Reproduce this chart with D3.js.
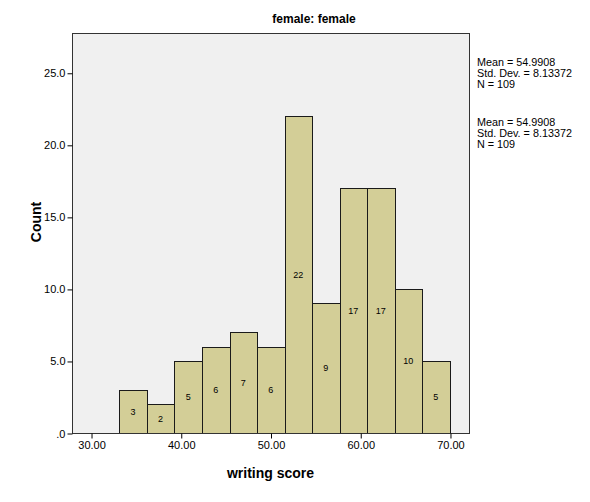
<!DOCTYPE html>
<html lang="en">
<head>
<meta charset="UTF-8">
<title>female: female</title>
<script src="https://cdnjs.cloudflare.com/ajax/libs/d3/7.8.5/d3.min.js"></script>
<style>
    body { margin: 0; background: #fff; font-family: Arial, "Liberation Sans", sans-serif; }
    .axis text { font-size: 11px; fill: #000; font-family: Arial, "Liberation Sans", sans-serif; }
    .axis line { stroke: #000; }
    .bar { fill: #d3ce97; stroke: #1a1a1a; stroke-width: 1px; }
    .barlabel { font-size: 9px; text-anchor: middle; }
    .stats { font-size: 10.8px; }
</style>
</head>
<body>
<svg width="590" height="502"></svg>
<script>
// histogram bins (writing score) and counts
const binEdges = [33.15, 36.22, 39.29, 42.36, 45.44, 48.5, 51.57, 54.63, 57.7, 60.76, 63.83, 66.9, 69.95];
const counts = [3, 2, 5, 6, 7, 6, 22, 9, 17, 17, 10, 5];
const xTicks = [30, 40, 50, 60, 70];
const yTicks = [0, 5, 10, 15, 20, 25];
const statLines = ["Mean = 54.9908", "Std. Dev. = 8.13372", "N = 109"];

const bins = counts.map((c, i) => ({ x0: binEdges[i], x1: binEdges[i + 1], count: c }));

const svg = d3.select("svg");
const m = { left: 72, top: 33, right: 469, bottom: 433 };

const x = d3.scaleLinear().domain([27.88, 72.12]).range([m.left, m.right]);
const y = d3.scaleLinear().domain([0, 27.76]).range([m.bottom, m.top]);

// plot background
svg.append("rect")
    .attr("x", m.left).attr("y", m.top)
    .attr("width", m.right - m.left).attr("height", m.bottom - m.top)
    .attr("fill", "#f0f0f0");

// bars
svg.append("g").selectAll("rect")
    .data(bins)
    .join("rect")
    .attr("class", "bar")
    .attr("x", d => Math.round(x(d.x0)) + 0.5)
    .attr("y", d => Math.round(y(d.count)) + 0.5)
    .attr("width", d => Math.round(x(d.x1)) - Math.round(x(d.x0)))
    .attr("height", d => Math.round(y(0)) - Math.round(y(d.count)));

svg.append("g").selectAll("text")
    .data(bins)
    .join("text")
    .attr("class", "barlabel")
    .attr("x", d => x((d.x0 + d.x1) / 2))
    .attr("y", d => (y(d.count) + y(0)) / 2)
    .attr("dy", "0.35em")
    .text(d => d.count);

// frame
svg.append("rect")
    .attr("x", m.left + 0.5).attr("y", m.top + 0.5)
    .attr("width", m.right - m.left).attr("height", m.bottom - m.top)
    .attr("fill", "none").attr("stroke", "#333");

// axes
const xAxis = svg.append("g")
    .attr("class", "axis")
    .attr("transform", `translate(0.5,${m.bottom + 0.5})`)
    .call(d3.axisBottom(x).tickValues(xTicks).tickSize(5).tickPadding(3).tickFormat(d3.format(".2f")));
xAxis.select(".domain").remove();

const yAxis = svg.append("g")
    .attr("class", "axis")
    .attr("transform", `translate(${m.left + 0.5},0.5)`)
    .call(d3.axisLeft(y).tickValues(yTicks).tickSize(5).tickPadding(2)
        .tickFormat(d => d === 0 ? ".0" : d3.format(".1f")(d)));
yAxis.select(".domain").remove();

// titles
svg.append("text")
    .attr("x", 314).attr("y", 23)
    .attr("text-anchor", "middle")
    .style("font-size", "12px").style("font-weight", "bold")
    .text("female: female");

svg.append("text")
    .attr("x", (m.left + m.right) / 2).attr("y", 478)
    .attr("text-anchor", "middle")
    .style("font-size", "14px").style("font-weight", "bold")
    .text("writing score");

svg.append("text")
    .attr("transform", "translate(41,222) rotate(-90)")
    .attr("text-anchor", "middle")
    .style("font-size", "14px").style("font-weight", "bold")
    .text("Count");

// statistics legend, shown twice like the original
[66, 126].forEach(top => {
    svg.append("g").selectAll("text")
        .data(statLines)
        .join("text")
        .attr("class", "stats")
        .attr("x", 477)
        .attr("y", (d, i) => top + i * 11)
        .text(d => d);
});
</script>
</body>
</html>
